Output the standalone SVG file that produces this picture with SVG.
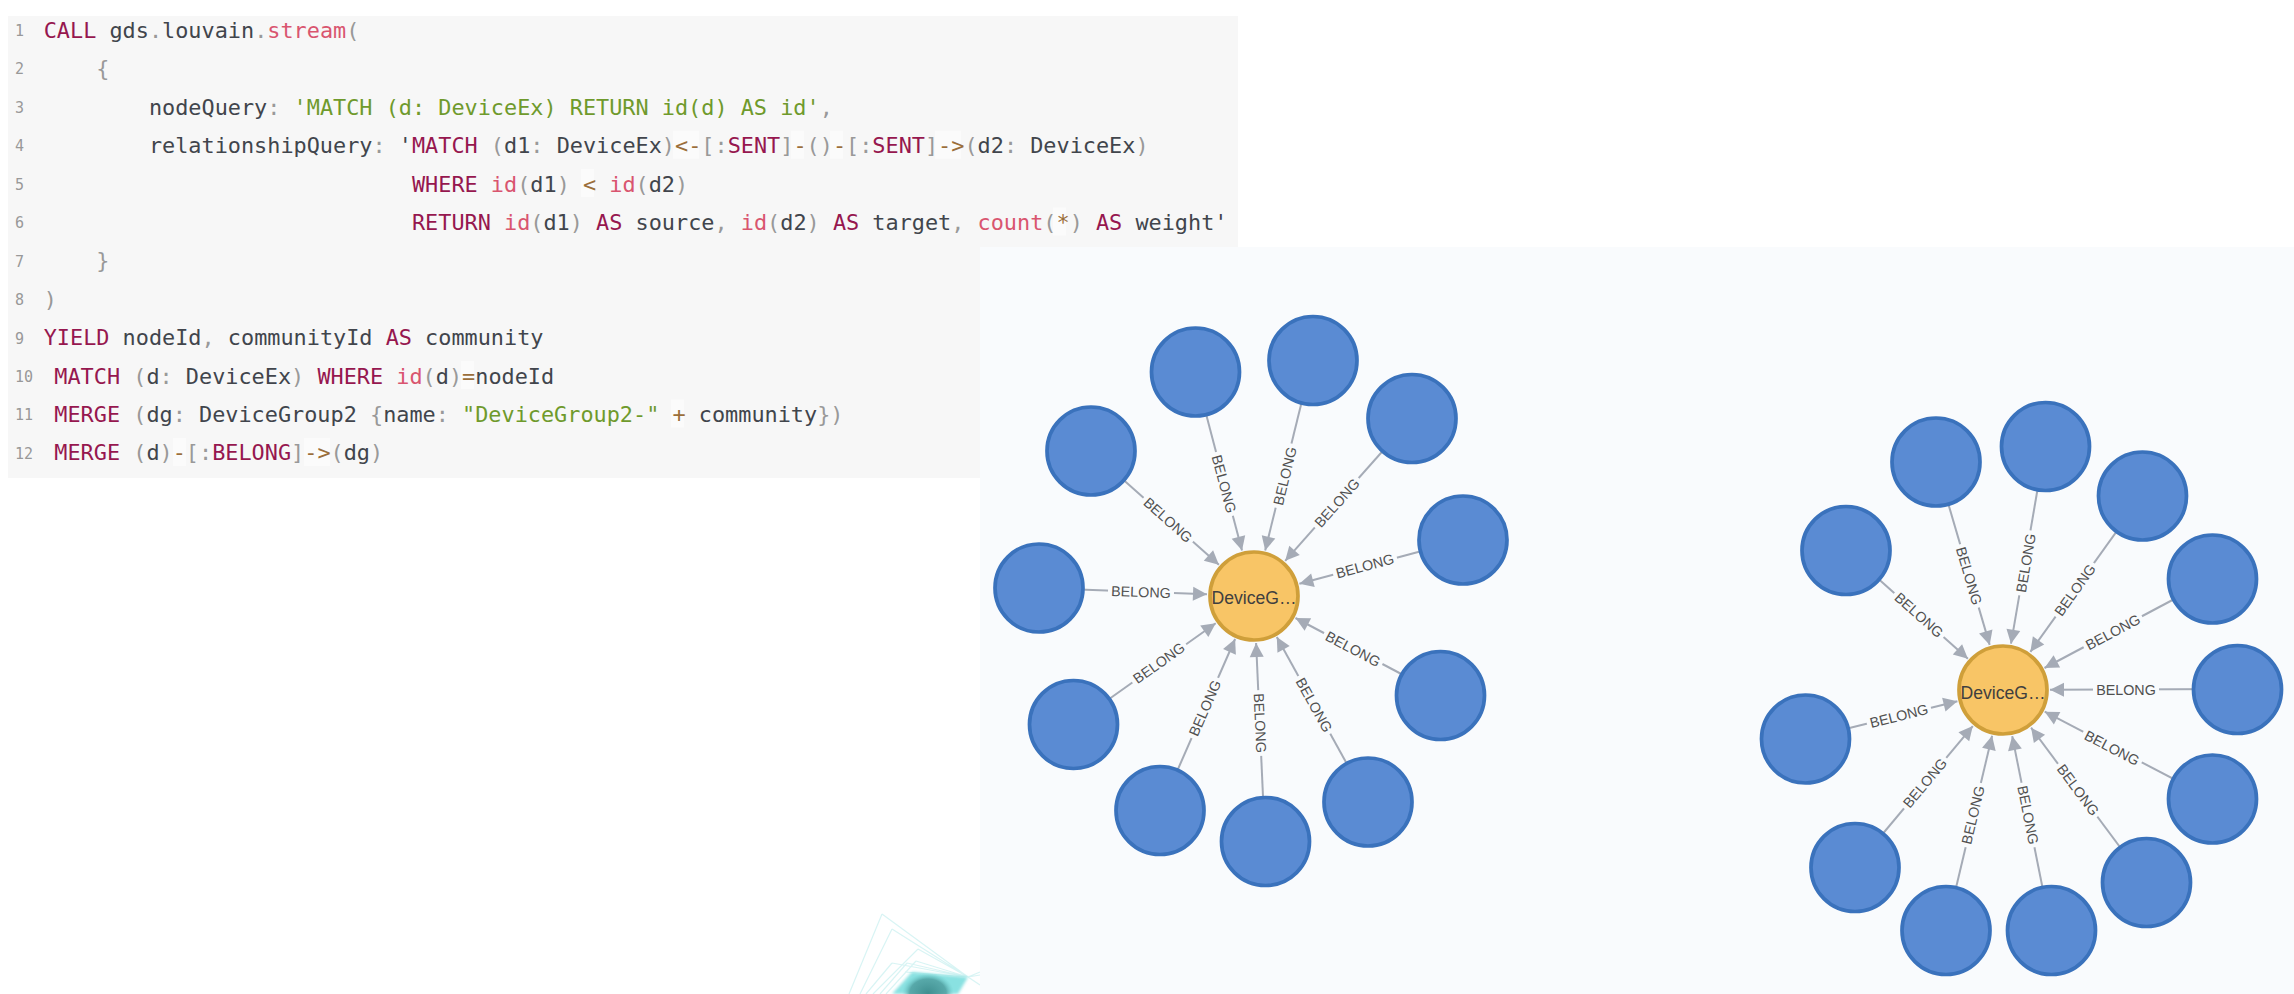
<svg xmlns="http://www.w3.org/2000/svg" width="2294" height="994" viewBox="0 0 2294 994">
<style>
.code{font-family:"DejaVu Sans Mono",monospace;font-size:21.85px;fill:#41454c;white-space:pre}
.k{fill:#96174f}.f{fill:#d9556f}.p{fill:#999}.s{fill:#6f9a2c}.o{fill:#9a6e3a}
.ln{font-family:"DejaVu Sans Mono",monospace;font-size:15px;fill:#999}
.opbg{fill:#fff;fill-opacity:.5;height:28px}
.sat{fill:#5a8bd3;stroke:#3a72bc;stroke-width:3.7}
.hub{fill:#f8c566;stroke:#cf9f3a;stroke-width:3.7}
.hubt{font-family:"Liberation Sans",Arial,sans-serif;font-size:17.6px;fill:#3f3f3f;text-anchor:middle}
.e{stroke:#a5abb6;stroke-width:2;fill:none;marker-end:url(#arrow)}
.lbl rect{fill:#f9fbfd}
.lbl text{font-family:"Liberation Sans",Arial,sans-serif;font-size:14.3px;fill:#505050;text-anchor:middle}
.t{stroke:#7fdcdc;stroke-opacity:.3;stroke-width:1.2;fill:none}
</style>
<defs>
<marker id="arrow" markerUnits="userSpaceOnUse" markerWidth="16" markerHeight="14" refX="14" refY="7" orient="auto" overflow="visible"><path d="M0 0L14 7L0 14Z" fill="#a5abb6"/></marker>
<filter id="soft" x="-20%" y="-20%" width="140%" height="140%"><feGaussianBlur stdDeviation="1.5"/></filter>
<radialGradient id="blob"><stop offset="0" stop-color="#3f8f90"/><stop offset=".7" stop-color="#4f9fa0" stop-opacity=".85"/><stop offset="1" stop-color="#6fcccc" stop-opacity="0"/></radialGradient>
</defs>
<rect width="2294" height="994" fill="#fff"/>
<g id="teal">
<path class="t" d="M882 914L968 977M892 929L968 977M918 949L968 977M892 963L968 977M907 963L968 977M916 961L968 977M882 914L849 994M892 929L860 994M918 949L873 994M892 963L866 994M907 963L880 994M916 961L886 994M905 972L968 977M968 977L980 972M968 977L980 985M968 977L980 975"/>
<path d="M892 994L912 972L968 977L958 994Z" fill="#74dcdc" fill-opacity=".85" filter="url(#soft)"/>
<ellipse cx="928" cy="993" rx="26" ry="20" fill="url(#blob)"/>
</g>
<g id="code">
<rect x="8" y="16" width="1230" height="462" fill="#f7f7f7"/>
<rect class="opbg" x="673" y="130.7" width="26"/><rect class="opbg" x="791" y="130.7" width="13"/><rect class="opbg" x="830" y="130.7" width="13"/><rect class="opbg" x="935" y="130.7" width="26"/>
<rect class="opbg" x="581" y="169" width="13"/><rect class="opbg" x="1053" y="207.5" width="13"/>
<rect class="opbg" x="461" y="361" width="13"/><rect class="opbg" x="671" y="399.5" width="13"/><rect class="opbg" x="173" y="438" width="13"/><rect class="opbg" x="304" y="438" width="26"/>
<g class="ln"><text x="15" y="36">1</text><text x="15" y="74">2</text><text x="15" y="113">3</text><text x="15" y="151">4</text><text x="15" y="190">5</text><text x="15" y="228">6</text><text x="15" y="267">7</text><text x="15" y="305">8</text><text x="15" y="344">9</text><text x="15" y="382">10</text><text x="15" y="420">11</text><text x="15" y="459">12</text></g>
<text class="code" x="43.7" y="38"><tspan class="k">CALL</tspan> gds<tspan class="p">.</tspan>louvain<tspan class="p">.</tspan><tspan class="f">stream</tspan><tspan class="p">(</tspan></text>
<text class="code" x="43.7" y="76.4"><tspan class="p">    {</tspan></text>
<text class="code" x="43.7" y="114.8">        nodeQuery<tspan class="p">:</tspan> <tspan class="s">'MATCH (d: DeviceEx) RETURN id(d) AS id'</tspan><tspan class="p">,</tspan></text>
<text class="code" x="43.7" y="153.2">        relationshipQuery<tspan class="p">:</tspan> '<tspan class="k">MATCH</tspan> <tspan class="p">(</tspan>d1<tspan class="p">:</tspan> DeviceEx<tspan class="p">)</tspan><tspan class="o">&lt;-</tspan><tspan class="p">[:</tspan><tspan class="k">SENT</tspan><tspan class="p">]</tspan><tspan class="o">-</tspan><tspan class="p">()</tspan><tspan class="o">-</tspan><tspan class="p">[:</tspan><tspan class="k">SENT</tspan><tspan class="p">]</tspan><tspan class="o">-&gt;</tspan><tspan class="p">(</tspan>d2<tspan class="p">:</tspan> DeviceEx<tspan class="p">)</tspan></text>
<text class="code" x="43.7" y="191.6">                            <tspan class="k">WHERE</tspan> <tspan class="f">id</tspan><tspan class="p">(</tspan>d1<tspan class="p">)</tspan> <tspan class="o">&lt;</tspan> <tspan class="f">id</tspan><tspan class="p">(</tspan>d2<tspan class="p">)</tspan></text>
<text class="code" x="43.7" y="230">                            <tspan class="k">RETURN</tspan> <tspan class="f">id</tspan><tspan class="p">(</tspan>d1<tspan class="p">)</tspan> <tspan class="k">AS</tspan> source<tspan class="p">,</tspan> <tspan class="f">id</tspan><tspan class="p">(</tspan>d2<tspan class="p">)</tspan> <tspan class="k">AS</tspan> target<tspan class="p">,</tspan> <tspan class="f">count</tspan><tspan class="p">(</tspan><tspan class="o">*</tspan><tspan class="p">)</tspan> <tspan class="k">AS</tspan> weight'</text>
<text class="code" x="43.7" y="268.4"><tspan class="p">    }</tspan></text>
<text class="code" x="43.7" y="306.8"><tspan class="p">)</tspan></text>
<text class="code" x="43.7" y="345.2"><tspan class="k">YIELD</tspan> nodeId<tspan class="p">,</tspan> communityId <tspan class="k">AS</tspan> community</text>
<text class="code" x="54.3" y="383.6"><tspan class="k">MATCH</tspan> <tspan class="p">(</tspan>d<tspan class="p">:</tspan> DeviceEx<tspan class="p">)</tspan> <tspan class="k">WHERE</tspan> <tspan class="f">id</tspan><tspan class="p">(</tspan>d<tspan class="p">)</tspan><tspan class="o">=</tspan>nodeId</text>
<text class="code" x="54.3" y="422"><tspan class="k">MERGE</tspan> <tspan class="p">(</tspan>dg<tspan class="p">:</tspan> DeviceGroup2 <tspan class="p">{</tspan>name<tspan class="p">:</tspan> <tspan class="s">"DeviceGroup2-"</tspan> <tspan class="o">+</tspan> community<tspan class="p">})</tspan></text>
<text class="code" x="54.3" y="460.4"><tspan class="k">MERGE</tspan> <tspan class="p">(</tspan>d<tspan class="p">)</tspan><tspan class="o">-</tspan><tspan class="p">[:</tspan><tspan class="k">BELONG</tspan><tspan class="p">]</tspan><tspan class="o">-&gt;</tspan><tspan class="p">(</tspan>dg<tspan class="p">)</tspan></text>
</g>
<rect id="panel" x="980" y="247" width="1314" height="747" fill="#f9fbfd"/>
<g id="connectors">
<line class="e" x1="1195" y1="372" x2="1242" y2="550.6"/>
<line class="e" x1="1312" y1="360" x2="1265.2" y2="550.4"/>
<line class="e" x1="1412" y1="418" x2="1285.2" y2="560.8"/>
<line class="e" x1="1463" y1="540" x2="1299.4" y2="583.8"/>
<line class="e" x1="1441" y1="695" x2="1295.5" y2="618"/>
<line class="e" x1="1368" y1="802" x2="1276.8" y2="637.1"/>
<line class="e" x1="1265" y1="841" x2="1256.1" y2="643"/>
<line class="e" x1="1160" y1="810" x2="1235.1" y2="639"/>
<line class="e" x1="1074" y1="724" x2="1215.7" y2="623.2"/>
<line class="e" x1="1039" y1="588" x2="1207" y2="594.3"/>
<line class="e" x1="1091" y1="451" x2="1218.9" y2="564.8"/>
<line class="e" x1="1936" y1="462" x2="1989.7" y2="644.9"/>
<line class="e" x1="2045" y1="446" x2="2011" y2="643.7"/>
<line class="e" x1="2142" y1="496" x2="2030.4" y2="651.8"/>
<line class="e" x1="2212" y1="579" x2="2044.5" y2="668"/>
<line class="e" x1="2237" y1="689" x2="2050" y2="689.8"/>
<line class="e" x1="2212" y1="799" x2="2044.7" y2="711.7"/>
<line class="e" x1="2146" y1="882" x2="2031.1" y2="727.7"/>
<line class="e" x1="2051" y1="930" x2="2012.2" y2="736.1"/>
<line class="e" x1="1946" y1="930" x2="1992.1" y2="735.7"/>
<line class="e" x1="1855" y1="867" x2="1972.8" y2="726.1"/>
<line class="e" x1="1805" y1="739" x2="1957.4" y2="701.3"/>
<line class="e" x1="1846" y1="550" x2="1967.9" y2="658.7"/>
<g class="lbl" transform="translate(1224 484) rotate(75.2)"><rect x="-33" y="-9" width="66" height="18"/><text y="5">BELONG</text></g>
<g class="lbl" transform="translate(1285 476) rotate(-76.2)"><rect x="-33" y="-9" width="66" height="18"/><text y="5">BELONG</text></g>
<g class="lbl" transform="translate(1337 503) rotate(-48.4)"><rect x="-33" y="-9" width="66" height="18"/><text y="5">BELONG</text></g>
<g class="lbl" transform="translate(1365 566) rotate(-15)"><rect x="-33" y="-9" width="66" height="18"/><text y="5">BELONG</text></g>
<g class="lbl" transform="translate(1353 649) rotate(27.9)"><rect x="-33" y="-9" width="66" height="18"/><text y="5">BELONG</text></g>
<g class="lbl" transform="translate(1314 705) rotate(61)"><rect x="-33" y="-9" width="66" height="18"/><text y="5">BELONG</text></g>
<g class="lbl" transform="translate(1260 723) rotate(87.4)"><rect x="-33" y="-9" width="66" height="18"/><text y="5">BELONG</text></g>
<g class="lbl" transform="translate(1205 708) rotate(-66.3)"><rect x="-33" y="-9" width="66" height="18"/><text y="5">BELONG</text></g>
<g class="lbl" transform="translate(1159 663) rotate(-35.4)"><rect x="-33" y="-9" width="66" height="18"/><text y="5">BELONG</text></g>
<g class="lbl" transform="translate(1141 592) rotate(2.1)"><rect x="-33" y="-9" width="66" height="18"/><text y="5">BELONG</text></g>
<g class="lbl" transform="translate(1168 520) rotate(41.7)"><rect x="-33" y="-9" width="66" height="18"/><text y="5">BELONG</text></g>
<g class="lbl" transform="translate(1969 576) rotate(73.6)"><rect x="-33" y="-9" width="66" height="18"/><text y="5">BELONG</text></g>
<g class="lbl" transform="translate(2026 563) rotate(-80.2)"><rect x="-33" y="-9" width="66" height="18"/><text y="5">BELONG</text></g>
<g class="lbl" transform="translate(2075 590) rotate(-54.4)"><rect x="-33" y="-9" width="66" height="18"/><text y="5">BELONG</text></g>
<g class="lbl" transform="translate(2113 632) rotate(-28)"><rect x="-33" y="-9" width="66" height="18"/><text y="5">BELONG</text></g>
<g class="lbl" transform="translate(2126 690)"><rect x="-33" y="-9" width="66" height="18"/><text y="5">BELONG</text></g>
<g class="lbl" transform="translate(2112 748) rotate(27.5)"><rect x="-33" y="-9" width="66" height="18"/><text y="5">BELONG</text></g>
<g class="lbl" transform="translate(2078 790) rotate(53.3)"><rect x="-33" y="-9" width="66" height="18"/><text y="5">BELONG</text></g>
<g class="lbl" transform="translate(2028 815) rotate(78.7)"><rect x="-33" y="-9" width="66" height="18"/><text y="5">BELONG</text></g>
<g class="lbl" transform="translate(1973 815) rotate(-76.6)"><rect x="-33" y="-9" width="66" height="18"/><text y="5">BELONG</text></g>
<g class="lbl" transform="translate(1925 783) rotate(-50.1)"><rect x="-33" y="-9" width="66" height="18"/><text y="5">BELONG</text></g>
<g class="lbl" transform="translate(1899 716) rotate(-13.9)"><rect x="-33" y="-9" width="66" height="18"/><text y="5">BELONG</text></g>
<g class="lbl" transform="translate(1919 615) rotate(41.7)"><rect x="-33" y="-9" width="66" height="18"/><text y="5">BELONG</text></g>
</g>
<g id="hub1"><circle class="hub" cx="1254" cy="596" r="44"/><text class="hubt" x="1254" y="604">DeviceG…</text></g>
<g id="n1"><circle class="sat" cx="1195.5" cy="372" r="44"/></g>
<g id="n2"><circle class="sat" cx="1313" cy="360.5" r="44"/></g>
<g id="n3"><circle class="sat" cx="1412" cy="418.5" r="44"/></g>
<g id="n4"><circle class="sat" cx="1463" cy="540" r="44"/></g>
<g id="n5"><circle class="sat" cx="1440.5" cy="695.5" r="44"/></g>
<g id="n6"><circle class="sat" cx="1368" cy="802" r="44"/></g>
<g id="n7"><circle class="sat" cx="1265.5" cy="841.5" r="44"/></g>
<g id="n8"><circle class="sat" cx="1160" cy="810.5" r="44"/></g>
<g id="n9"><circle class="sat" cx="1073.5" cy="724.5" r="44"/></g>
<g id="n10"><circle class="sat" cx="1039" cy="588" r="44"/></g>
<g id="n11"><circle class="sat" cx="1091" cy="451" r="44"/></g>
<g id="hub2"><circle class="hub" cx="2003" cy="690" r="44"/><text class="hubt" x="2003" y="699">DeviceG…</text></g>
<g id="m1"><circle class="sat" cx="1936" cy="462" r="44"/></g>
<g id="m2"><circle class="sat" cx="2045.5" cy="446.5" r="44"/></g>
<g id="m3"><circle class="sat" cx="2142.5" cy="496" r="44"/></g>
<g id="m4"><circle class="sat" cx="2212.5" cy="579" r="44"/></g>
<g id="m5"><circle class="sat" cx="2237.5" cy="689.5" r="44"/></g>
<g id="m6"><circle class="sat" cx="2212.5" cy="799" r="44"/></g>
<g id="m7"><circle class="sat" cx="2146.5" cy="882.5" r="44"/></g>
<g id="m8"><circle class="sat" cx="2051.5" cy="930.5" r="44"/></g>
<g id="m9"><circle class="sat" cx="1946" cy="930.5" r="44"/></g>
<g id="m10"><circle class="sat" cx="1855" cy="867.5" r="44"/></g>
<g id="m11"><circle class="sat" cx="1805.5" cy="739" r="44"/></g>
<g id="m12"><circle class="sat" cx="1846" cy="550.5" r="44"/></g>
</svg>
